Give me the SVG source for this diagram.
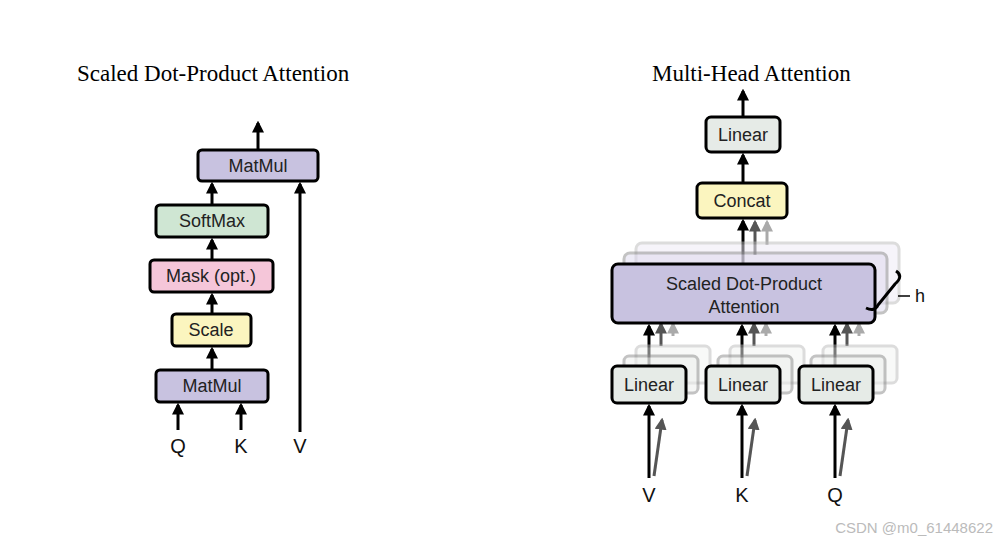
<svg xmlns="http://www.w3.org/2000/svg" width="997" height="547" viewBox="0 0 997 547">
<defs>
<style>
.b{stroke:#000;stroke-width:3}
.t{font-family:"Liberation Sans",Arial,sans-serif;font-size:18px;fill:#222;text-anchor:middle}
.ti{font-family:"Liberation Serif",serif;font-size:23px;fill:#000}
.l{font-family:"Liberation Sans",Arial,sans-serif;font-size:20px;fill:#111;text-anchor:middle}
.c{stroke:#000;stroke-width:3;fill:none;marker-end:url(#a)}
.g1{stroke:#555;stroke-width:3;fill:none;marker-end:url(#a2)}
.g2{stroke:#aaa;stroke-width:3;fill:none;marker-end:url(#a3)}
.sh{stroke-width:3;opacity:0.5}
</style>
<marker id="a" viewBox="0 0 10 10" refX="8" refY="5" markerWidth="4" markerHeight="4" orient="auto"><path d="M0,0L10,5L0,10z" fill="#000"/></marker>
<marker id="a2" viewBox="0 0 10 10" refX="8" refY="5" markerWidth="4" markerHeight="4" orient="auto"><path d="M0,0L10,5L0,10z" fill="#555"/></marker>
<marker id="a3" viewBox="0 0 10 10" refX="8" refY="5" markerWidth="4" markerHeight="4" orient="auto"><path d="M0,0L10,5L0,10z" fill="#aaa"/></marker>
</defs>
<rect width="997" height="547" fill="#fff"/>
<text class="ti" x="77" y="81">Scaled Dot-Product Attention</text>
<text class="ti" x="652" y="81">Multi-Head Attention</text>

<g id="connectors">
<path class="c" d="M258,150V123"/>
<path class="c" d="M212,204V184"/>
<path class="c" d="M212,260V240"/>
<path class="c" d="M212,314V295"/>
<path class="c" d="M212,370V349"/>
<path class="c" d="M178,430V405"/>
<path class="c" d="M241,430V405"/>
<path class="c" d="M300,432V184"/>
<path class="c" d="M743,117V91"/>
<path class="c" d="M743,183V155"/>
<path class="g2" d="M767,245V222"/>
<path class="g1" d="M755,255V222"/>
<path class="c" d="M743,263V221"/>
<path class="c" d="M649,478V406"/>
<path class="c" d="M742,478V406"/>
<path class="c" d="M835,478V406"/>
<path class="g1" d="M654,476L662,420"/>
<path class="g1" d="M747,476L755,420"/>
<path class="g1" d="M840,476L848,420"/>
<path class="c" d="M649,366V326"/>
<path class="c" d="M742,366V326"/>
<path class="c" d="M835,366V326"/>
<path class="g1" d="M661,346V324"/><path class="g2" d="M673,336V324"/>
<path class="g1" d="M754,346V324"/><path class="g2" d="M766,336V324"/>
<path class="g1" d="M847,346V324"/><path class="g2" d="M859,336V324"/>
</g>

<g id="n-matmul-top"><rect class="b" x="198" y="150" width="120" height="31" rx="4" fill="#c8c2e0"/><text class="t" x="258" y="172">MatMul</text></g>
<g id="n-softmax"><rect class="b" x="156" y="205" width="112" height="32" rx="4" fill="#cfe6d3"/><text class="t" x="212" y="227">SoftMax</text></g>
<g id="n-mask"><rect class="b" x="150" y="260" width="123" height="32" rx="4" fill="#f5c6d9"/><text class="t" x="211" y="282">Mask (opt.)</text></g>
<g id="n-scale"><rect class="b" x="172" y="314" width="79" height="32" rx="4" fill="#fbf5bf"/><text class="t" x="211" y="336">Scale</text></g>
<g id="n-matmul-bot"><rect class="b" x="156" y="370" width="112" height="32" rx="4" fill="#c8c2e0"/><text class="t" x="212" y="392">MatMul</text></g>
<text class="l" x="178" y="453">Q</text><text class="l" x="241" y="453">K</text><text class="l" x="300" y="453">V</text>

<g id="n-linear-top"><rect class="b" x="706" y="117" width="74" height="35" rx="5" fill="#e6ebe7"/><text class="t" x="743" y="141">Linear</text></g>
<g id="n-concat"><rect class="b" x="697" y="183" width="90" height="35" rx="5" fill="#fbf5bf"/><text class="t" x="742" y="207">Concat</text></g>

<g id="n-sdpa">
<rect class="sh" x="636" y="243" width="263" height="60" rx="6" fill="#eeeaf6" stroke="#bbb"/>
<rect class="sh" x="624" y="253" width="263" height="60" rx="6" fill="#ddd8ee" stroke="#888"/>
<rect class="b" x="612" y="264" width="263" height="59" rx="6" fill="#c8c2e0"/>
<text class="t" x="744" y="290">Scaled Dot-Product</text>
<text class="t" x="744" y="313">Attention</text>
<path d="M896,271Q904,276 895,284L878,305Q875,312 866,308" fill="none" stroke="#000" stroke-width="3"/>
<path d="M898,296H910" stroke="#000" stroke-width="1.5"/>
<text class="l" x="920" y="302" style="font-size:18px">h</text>
</g>

<g id="n-linear-v">
<rect class="sh" x="636" y="346" width="74" height="37" rx="5" fill="#f3f5f3" stroke="#bbb"/>
<rect class="sh" x="624" y="356" width="74" height="37" rx="5" fill="#eceeec" stroke="#888"/>
<rect class="b" x="612" y="366" width="74" height="37" rx="5" fill="#e6ebe7"/><text class="t" x="649" y="391">Linear</text></g>
<g id="n-linear-k">
<rect class="sh" x="730" y="346" width="74" height="37" rx="5" fill="#f3f5f3" stroke="#bbb"/>
<rect class="sh" x="718" y="356" width="74" height="37" rx="5" fill="#eceeec" stroke="#888"/>
<rect class="b" x="706" y="366" width="74" height="37" rx="5" fill="#e6ebe7"/><text class="t" x="743" y="391">Linear</text></g>
<g id="n-linear-q">
<rect class="sh" x="823" y="346" width="74" height="37" rx="5" fill="#f3f5f3" stroke="#bbb"/>
<rect class="sh" x="811" y="356" width="74" height="37" rx="5" fill="#eceeec" stroke="#888"/>
<rect class="b" x="799" y="366" width="74" height="37" rx="5" fill="#e6ebe7"/><text class="t" x="836" y="391">Linear</text></g>
<text class="l" x="649" y="502">V</text><text class="l" x="742" y="502">K</text><text class="l" x="835" y="502">Q</text>
<text x="993" y="533" style="font-family:'Liberation Sans',Arial,sans-serif;font-size:15px;fill:#bbb;text-anchor:end">CSDN @m0_61448622</text>
</svg>
